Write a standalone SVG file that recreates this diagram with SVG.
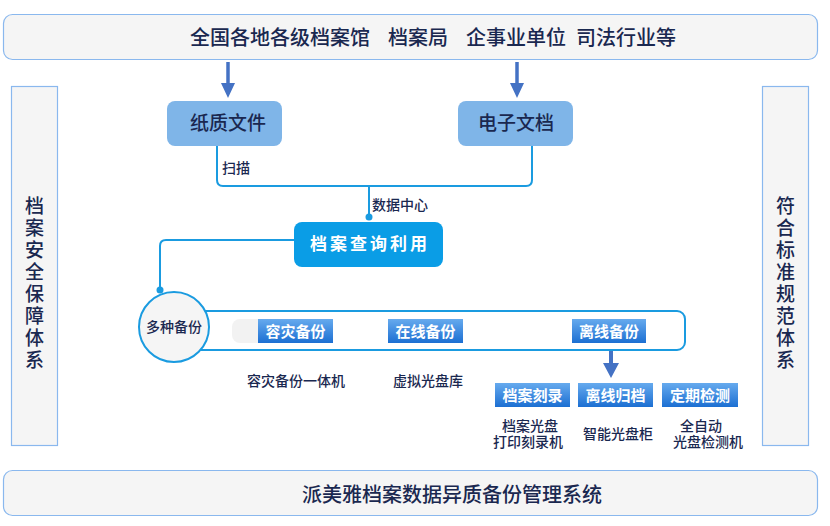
<svg xmlns="http://www.w3.org/2000/svg" width="830" height="526" viewBox="0 0 830 526">
<defs>
<linearGradient id="lg" x1="0" y1="0" x2="0" y2="1">
<stop offset="0" stop-color="#66aaee"/>
<stop offset="1" stop-color="#1c6fd2"/>
</linearGradient>
<style>
.frame{fill:#f5f5f5;stroke:#8ab8ee;stroke-width:1.2}
.t{font-family:"Noto Sans CJK SC","Noto Sans",sans-serif;fill:#1a2850}
.big{font-size:20px;font-weight:500}
.mid{font-size:19px;font-weight:500}
.sm{font-size:14px;font-weight:500}
.vert{font-size:19px;font-weight:500;writing-mode:vertical-rl;letter-spacing:3px}
.lab{font-family:"Noto Sans CJK SC","Noto Sans",sans-serif;font-size:15px;font-weight:700;fill:#ffffff}
.conn{fill:none;stroke:#1a9be0;stroke-width:2}
.shaft{stroke:#4472c4;stroke-width:3.5}
.head{fill:#4472c4}
</style>
</defs>

<g id="top">
<rect class="frame" x="3.5" y="14.5" width="814" height="45" rx="9"/>
<text class="t big" y="45"><tspan x="190">全国各地各级档案馆</tspan><tspan x="388">档案局</tspan><tspan x="466">企事业单位</tspan><tspan x="576">司法行业等</tspan></text>
</g>

<g id="left-side">
<rect class="frame" x="11.5" y="86.5" width="46" height="359"/>
<text class="t vert" x="34.5" y="284" text-anchor="middle">档案安全保障体系</text>
</g>

<g id="right-side">
<rect class="frame" x="762.5" y="86.5" width="46" height="359"/>
<text class="t vert" x="785.5" y="284" text-anchor="middle">符合标准规范体系</text>
</g>

<g id="bottom">
<rect class="frame" x="3.5" y="470.5" width="814" height="45" rx="9"/>
<text class="t big" x="452" y="502" text-anchor="middle">派美雅档案数据异质备份管理系统</text>
</g>

<g id="connectors">
<line class="shaft" x1="228" y1="62" x2="228" y2="84"/>
<polygon class="head" points="221,83 235,83 228,98"/>
<line class="shaft" x1="517" y1="62" x2="517" y2="84"/>
<polygon class="head" points="510,83 524,83 517,98"/>
<path class="conn" d="M217,146 V180 Q217,186 223,186 H526 Q532,186 532,180 V146"/>
<line class="conn" x1="369" y1="186" x2="369" y2="216"/>
<circle cx="369" cy="217" r="3.5" fill="#1a9be0"/>
<path class="conn" d="M294,240 H166 Q160,240 160,246 V289"/>
<circle cx="160" cy="290" r="3.5" fill="#1a9be0"/>
<line class="shaft" x1="611" y1="343" x2="611" y2="364" style="stroke-width:4"/>
<polygon class="head" points="603,363 619,363 611,378"/>
</g>

<g id="paper">
<rect x="167" y="101" width="115" height="45" rx="8" fill="#7fb5e8"/>
<text class="t mid" x="228" y="130" text-anchor="middle">纸质文件</text>
</g>
<g id="electronic">
<rect x="458" y="101" width="115" height="45" rx="8" fill="#7fb5e8"/>
<text class="t mid" x="516" y="130" text-anchor="middle">电子文档</text>
</g>
<text class="t sm" x="222" y="173">扫描</text>
<text class="t sm" x="372" y="210">数据中心</text>

<g id="query">
<rect x="294" y="222" width="149" height="45" rx="8" fill="#0a9de6"/>
<text x="370" y="250" text-anchor="middle" font-family="Noto Sans CJK SC,sans-serif" font-size="17" font-weight="700" fill="#ffffff" letter-spacing="3">档案查询利用</text>
</g>

<g id="backup-bar">
<rect x="180" y="311" width="505" height="39" rx="8" fill="#ffffff" stroke="#1a9be0" stroke-width="2"/>
<rect x="232" y="319" width="40" height="24" rx="8" fill="#f2f2f2"/>
</g>

<g id="multi">
<circle cx="174" cy="327" r="35" fill="#f5f5f5" stroke="#1a9be0" stroke-width="2"/>
<text class="t sm" x="174" y="332" text-anchor="middle">多种备份</text>
</g>

<g id="disaster">
<rect x="258" y="319" width="75" height="24" fill="url(#lg)"/>
<text class="lab" x="295.5" y="337" text-anchor="middle">容灾备份</text>
</g>
<g id="online">
<rect x="388" y="319" width="75" height="24" fill="url(#lg)"/>
<text class="lab" x="425.5" y="337" text-anchor="middle">在线备份</text>
</g>
<g id="offline">
<rect x="572" y="319" width="74" height="24" fill="url(#lg)"/>
<text class="lab" x="609" y="337" text-anchor="middle">离线备份</text>
</g>

<text class="t sm" x="296" y="386" text-anchor="middle">容灾备份一体机</text>
<text class="t sm" x="428" y="386" text-anchor="middle">虚拟光盘库</text>

<g id="burn">
<rect x="495" y="383" width="75" height="24" fill="url(#lg)"/>
<text class="lab" x="532.5" y="401" text-anchor="middle">档案刻录</text>
</g>
<g id="archive">
<rect x="578" y="383" width="75" height="24" fill="url(#lg)"/>
<text class="lab" x="615.5" y="401" text-anchor="middle">离线归档</text>
</g>
<g id="check">
<rect x="662" y="383" width="76" height="24" fill="url(#lg)"/>
<text class="lab" x="700" y="401" text-anchor="middle">定期检测</text>
</g>

<text class="t sm" text-anchor="middle"><tspan x="530" y="431">档案光盘</tspan><tspan x="528" y="447">打印刻录机</tspan></text>
<text class="t sm" x="618" y="439" text-anchor="middle">智能光盘柜</text>
<text class="t sm" text-anchor="middle"><tspan x="701" y="431">全自动</tspan><tspan x="708" y="447">光盘检测机</tspan></text>
</svg>
